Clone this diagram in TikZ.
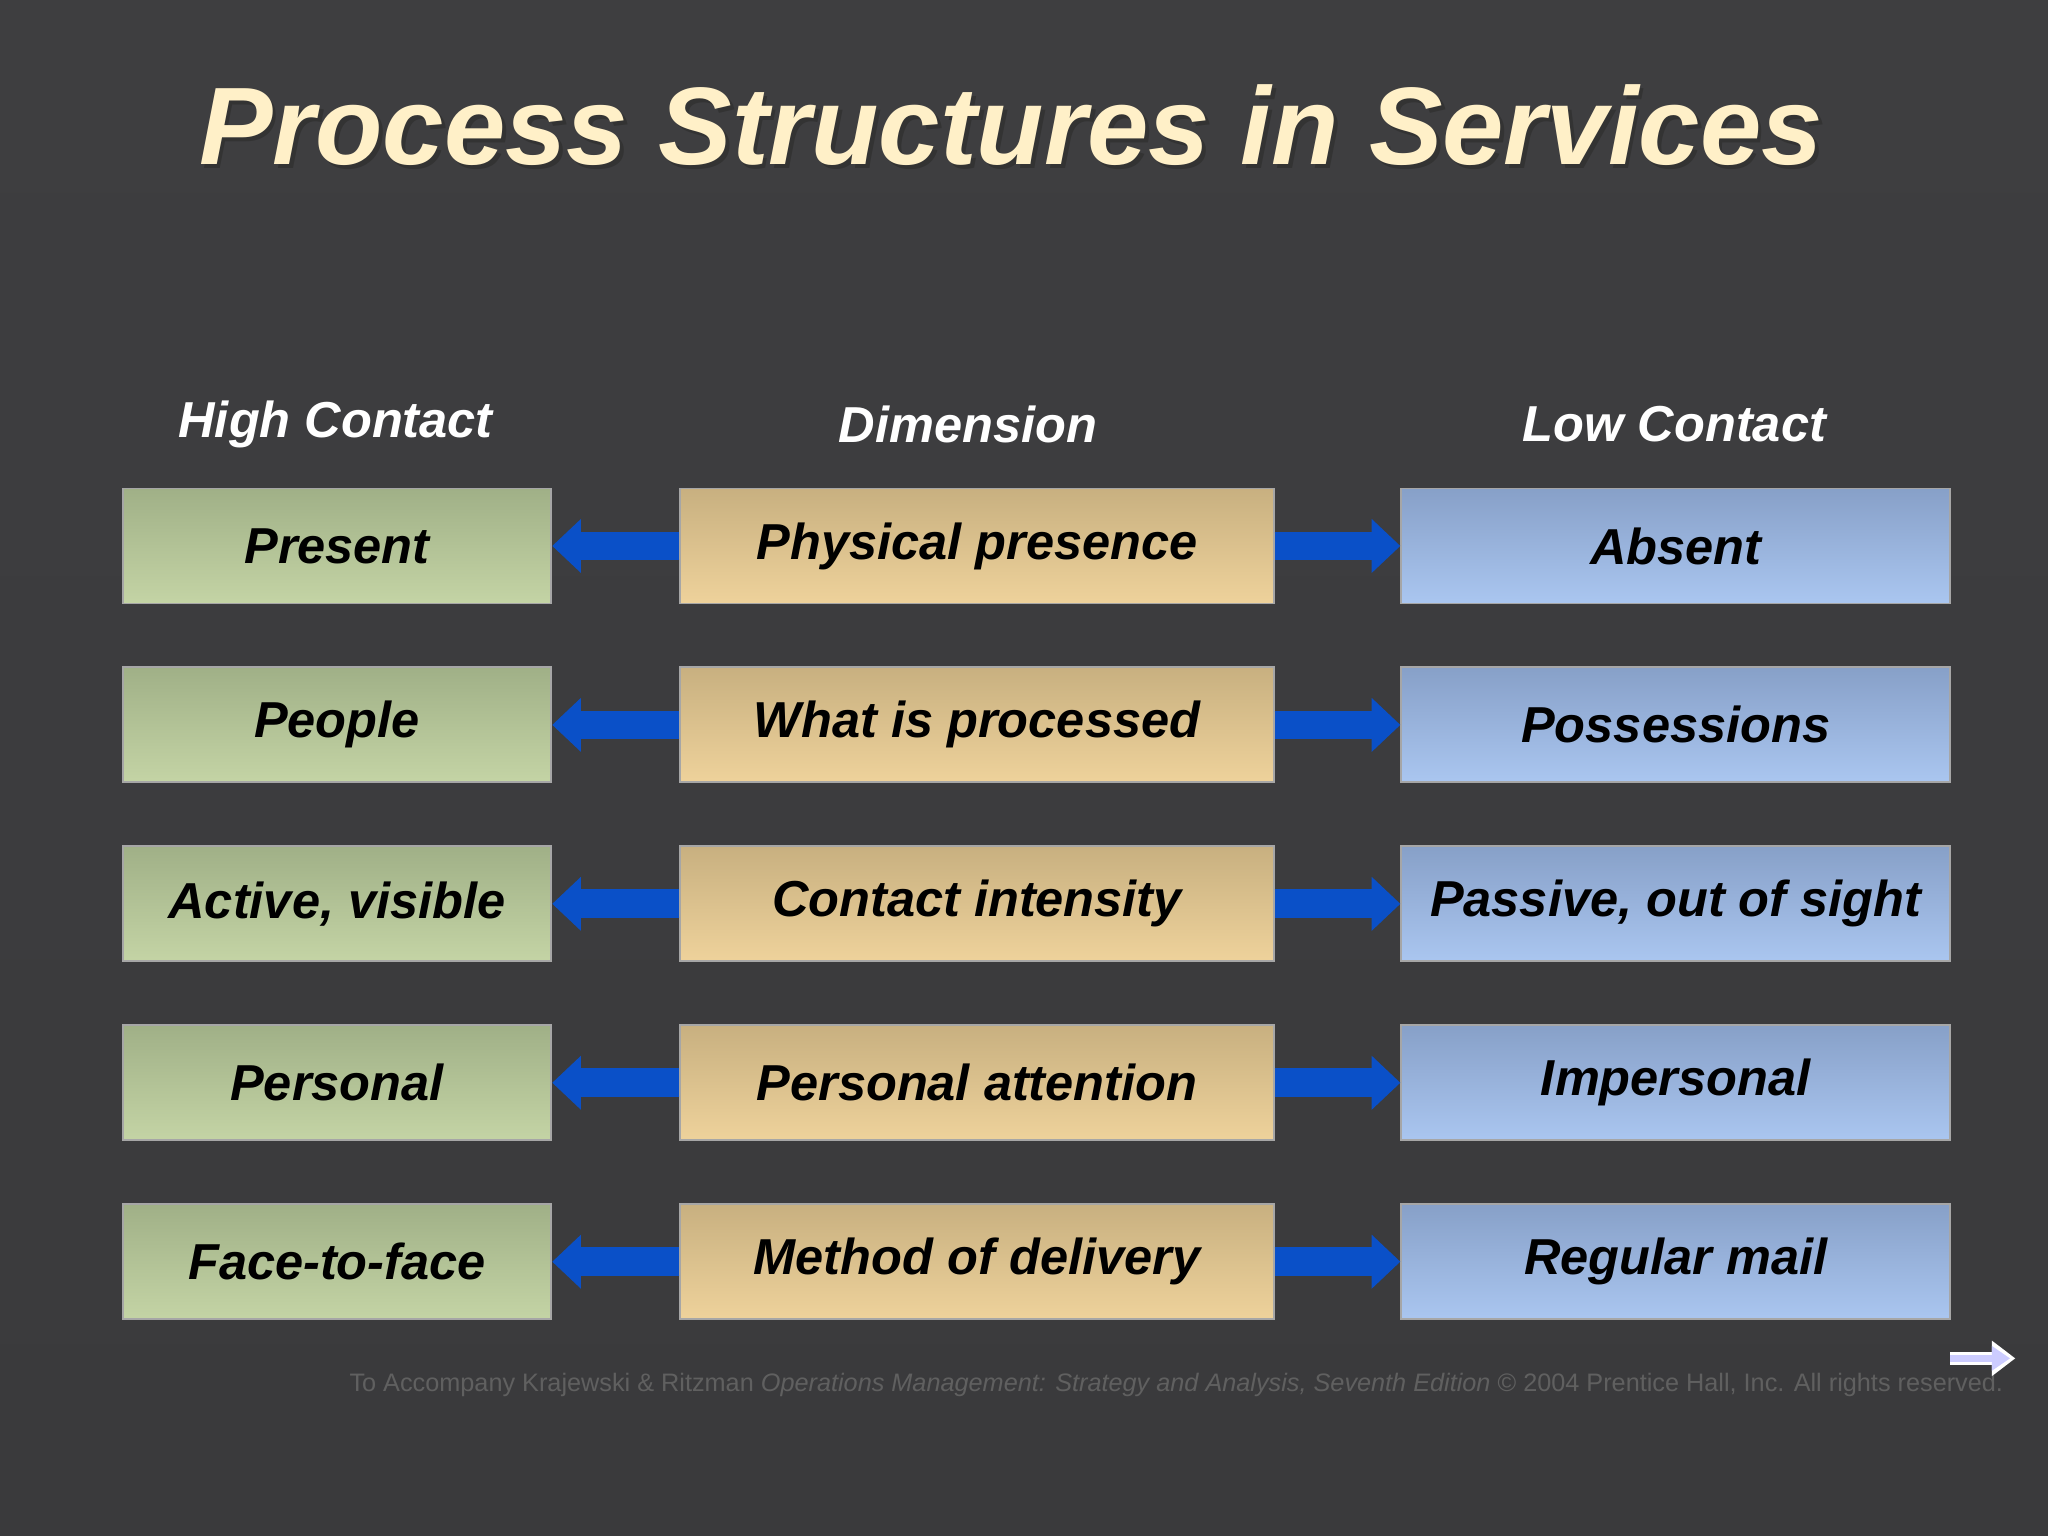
\documentclass[tikz,border=0pt]{standalone}
\usepackage{fontspec}
\setmainfont{Liberation Sans}
\usetikzlibrary{positioning, arrows.meta, calc}
\definecolor{bgtop}{RGB}{62,62,64}
\definecolor{bgbot}{RGB}{58,58,60}
\definecolor{titlecol}{RGB}{255,240,200}
\definecolor{greentop}{RGB}{160,176,135}
\definecolor{greenbot}{RGB}{196,212,165}
\definecolor{tantop}{RGB}{200,176,128}
\definecolor{tanbot}{RGB}{238,210,155}
\definecolor{bluetop}{RGB}{135,160,200}
\definecolor{bluebot}{RGB}{170,198,240}
\definecolor{arrowblue}{RGB}{10,80,200}
\begin{document}
\begin{tikzpicture}[
    x = 0.01cm, y = -0.01cm,
    font = \bfseries\itshape,
    box/.style = {
      rectangle, draw = gray!70, thin, minimum height = 0.88cm,
      inner sep = 0pt, font = \fontsize{11pt}{13pt}\bfseries\itshape
    },
    high/.style = {box, minimum width = 3.28cm, top color = greentop, bottom color = greenbot},
    dim/.style  = {box, minimum width = 4.54cm, top color = tantop, bottom color = tanbot},
    low/.style  = {box, minimum width = 4.20cm, top color = bluetop, bottom color = bluebot},
    head/.style = {text = white, font = \fontsize{11pt}{13pt}\bfseries\itshape},
    link/.style = {
      -{Triangle[length = 0.22cm, width = 0.40cm]}, line width = 0.22cm, arrowblue
    },
    ]

    % background
    \fill [top color = bgtop, bottom color = bgbot] (0,0) rectangle (1568,1176);
    \useasboundingbox (0,0) rectangle (1568,1176);

    % title
    \node  [text = black!80]  at (777,99)  {\fontsize{24pt}{28pt}\bfseries\itshape Process Structures in Services};
    \node  [text = titlecol]  (title)  at (774,96)  {\fontsize{24pt}{28pt}\bfseries\itshape Process Structures in Services};

    % column heads
    \node  [head]  (hhigh)  at (257,325)  {High Contact};
    \node  [head]  (hdim)   at (741,325)  {Dimension};
    \node  [head]  (hlow)   at (1282,325) {Low Contact};

    % rows
    \foreach \i/\h/\d/\l in {
      1/Present/Physical presence/Absent,
      2/People/What is processed/Possessions,
      3/{Active, visible}/Contact intensity/{Passive, out of sight},
      4/Personal/Personal attention/Impersonal,
      5/Face-to-face/Method of delivery/Regular mail}
    {
      \node  [dim]   (d\i)  at (748,{418+137*(\i-1)})  {\d};
      \node  [high]  (h\i)  at (258,{418+137*(\i-1)})  {\h};
      \node  [low]   (l\i)  at (1283,{418+137*(\i-1)}) {\l};
      \draw  [link]  (d\i.west)  --  (h\i.east);
      \draw  [link]  (d\i.east)  --  (l\i.west);
    }

    % footer
    \node  [text = gray!75!black, font = \fontsize{5.5pt}{7pt}\selectfont, anchor = east]  (foot)  at (1546,1060)
      {To Accompany Krajewski \& Ritzman \textit{Operations Management: Strategy and Analysis, Seventh Edition} \copyright\ 2004 Prentice Hall, Inc. All rights reserved.};
    \coordinate  (nexta)  at (1493,1040);
    \coordinate  (nextb)  at (1543,1040);
    \draw  [-{Triangle[length = 0.18cm, width = 0.26cm]}, line width = 0.10cm, white]  (nexta)  --  (nextb);
    \draw  [-{Triangle[length = 0.14cm, width = 0.18cm]}, line width = 0.05cm, blue!20]  (nexta)  --  ($(nextb)+(-4,0)$);
\end{tikzpicture}
\end{document}
